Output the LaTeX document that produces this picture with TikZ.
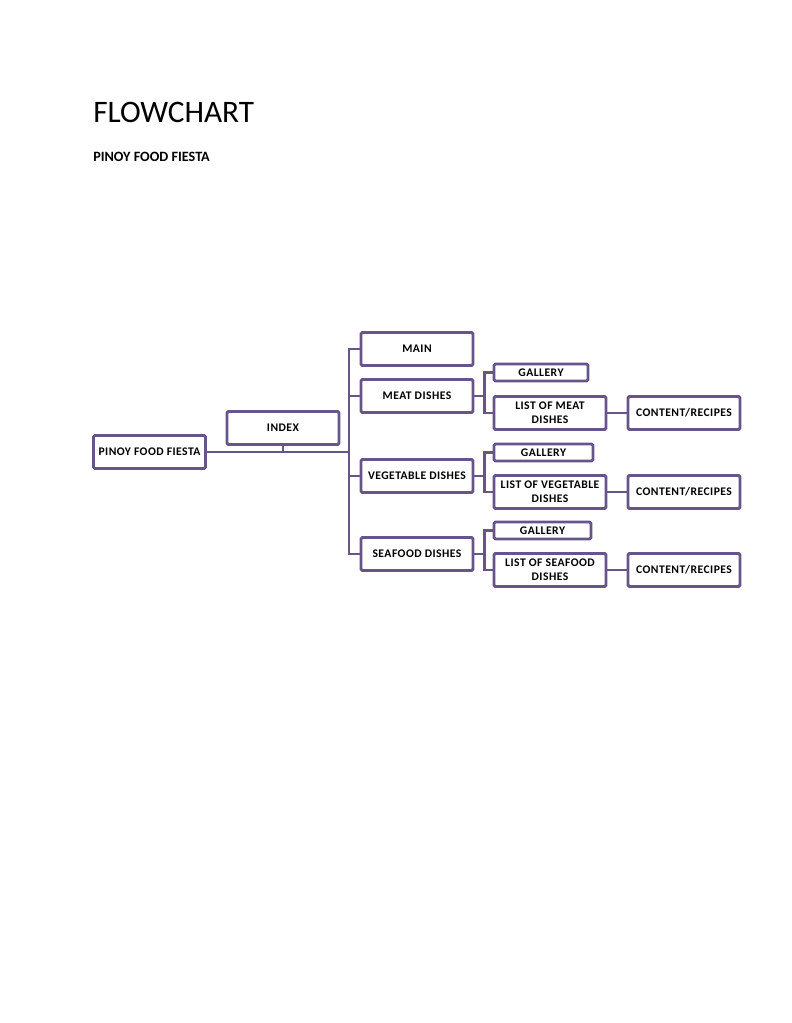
\documentclass[tikz,border=0pt]{standalone}
\usepackage{fontspec}
\setmainfont{Carlito}
\usepackage{xcolor}
\usetikzlibrary{positioning, calc}

\definecolor{boxpurple}{HTML}{66548A}

\begin{document}
\begin{tikzpicture}[
    x=0.7737pt, y=-0.7737pt,
    box/.style     = {rectangle, rounded corners=1pt, draw=boxpurple,
                      line width=2.2pt, fill=white, inner sep=1pt,
                      font=\fontsize{9}{10.5}\selectfont\bfseries\addfontfeatures{LetterSpace=4},
                      align=center},
    wide/.style    = {box, minimum width=112*0.7737pt, minimum height=33*0.7737pt},
    small/.style   = {box, minimum height=17*0.7737pt},
    link/.style    = {draw=boxpurple, line width=1.9pt}
  ]
  \useasboundingbox (0,0) rectangle (791,1023);

  % ── Heading ─────────────────────────────────────────────────
  \node[anchor=base west, inner sep=0pt, font=\fontsize{24.2}{28}\selectfont]
    (title) at (93,123) {FLOWCHART};
  \node[anchor=base west, inner sep=0pt, font=\fontsize{11}{13}\selectfont\bfseries]
    (sub) at (93,162) {PINOY FOOD FIESTA};

  % ── Root and index ──────────────────────────────────────────
  \node[wide] (pff)   at (149.5,452) {PINOY FOOD FIESTA};
  \node[wide] (index) at (283,428)   {INDEX};

  % ── Column 2: sections ──────────────────────────────────────
  \node[wide] (main) at (417,349) {MAIN};
  \node[wide] (meat) at (417,396) {MEAT DISHES};
  \node[wide] (veg)  at (417,476) {VEGETABLE DISHES};
  \node[wide] (sea)  at (417,554) {SEAFOOD DISHES};

  % ── Column 3: galleries and lists ───────────────────────────
  \node[small, minimum width=94*0.7737pt] (galm) at (541,372.5) {GALLERY};
  \node[wide] (listm) at (550,413) {LIST OF MEAT\\DISHES};
  \node[small, minimum width=99*0.7737pt] (galv) at (543.5,452.5) {GALLERY};
  \node[wide] (listv) at (550,492) {LIST OF VEGETABLE\\DISHES};
  \node[small, minimum width=97*0.7737pt] (gals) at (542.5,530.5) {GALLERY};
  \node[wide] (lists) at (550,570) {LIST OF SEAFOOD\\DISHES};

  % ── Column 4: recipes ───────────────────────────────────────
  \node[wide] (recm) at (684,413) {CONTENT/RECIPES};
  \node[wide] (recv) at (684,492) {CONTENT/RECIPES};
  \node[wide] (recs) at (684,570) {CONTENT/RECIPES};

  % ── Connectors ──────────────────────────────────────────────
  \coordinate (bus) at (349,452);
  \draw[link] (pff.east) -- (bus);
  \draw[link] (index.south) -- (index.south |- bus);
  \draw[link] (main.west) -| (bus) |- (sea.west);
  \draw[link] (meat.west) -- (meat.west -| bus);
  \draw[link] (veg.west) -- (veg.west -| bus);

  % meat
  \coordinate (mb) at ($(meat.east)+(10,0)$);
  \draw[link] (meat.east) -- (mb);
  \draw[link] (galm.west) -| (mb) |- (listm.west);
  \draw[link] (listm) -- (recm);

  % vegetable
  \coordinate (vb) at ($(veg.east)+(10,0)$);
  \draw[link] (veg.east) -- (vb);
  \draw[link] (galv.west) -| (vb) |- (listv.west);
  \draw[link] (listv) -- (recv);

  % seafood
  \coordinate (sb) at ($(sea.east)+(10,0)$);
  \draw[link] (sea.east) -- (sb);
  \draw[link] (gals.west) -| (sb) |- (lists.west);
  \draw[link] (lists) -- (recs);

\end{tikzpicture}
\end{document}
